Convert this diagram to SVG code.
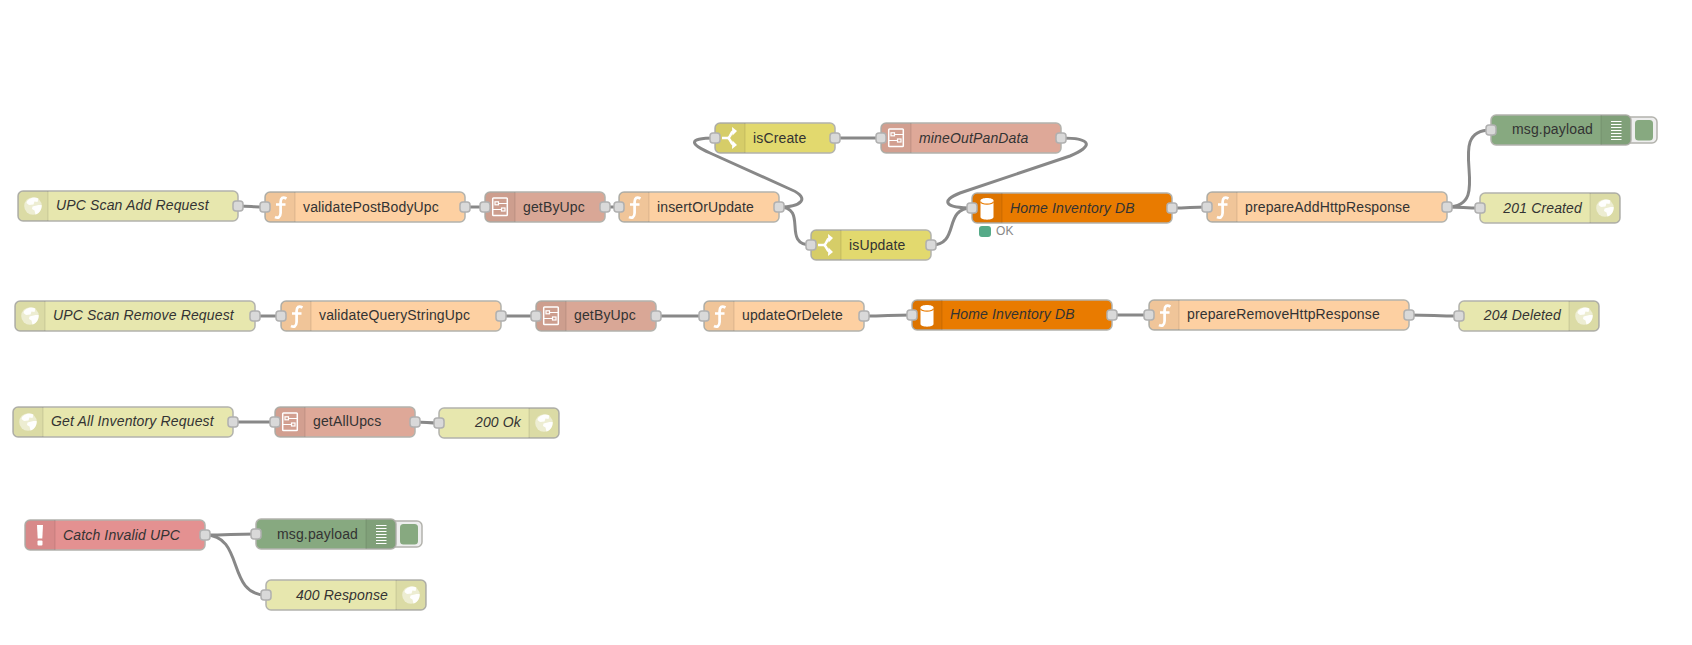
<svg xmlns="http://www.w3.org/2000/svg" width="1692" height="645" viewBox="0 0 1692 645">
<style>
text{font-family:"Liberation Sans",Arial,sans-serif;font-size:14px;fill:#333;letter-spacing:.15px}
.n{stroke:#b3b3ad;stroke-width:1.5}
.i{font-style:italic}
.e{text-anchor:end}
.p{fill:#d9d9d9;stroke:#b0b0b0;stroke-width:1.5}
.b{fill:#000;fill-opacity:.05}
.s{stroke:#000;stroke-opacity:.1;stroke-width:1}
.w{fill:none;stroke:#888;stroke-width:3}
.http{fill:#e7e7ae}.fn{fill:#fdd0a2}.tpl{fill:#dea898}.tpd{fill:#d9a796}.sw{fill:#e2d96e}.db{fill:#e97b00}.dbg{fill:#87a980}.ct{fill:#e49191}
.st{font-size:12px;fill:#888}
</style>
<defs>
<path id="bl" d="M5 0H30V30H5A5 5 0 0 1 0 25V5A5 5 0 0 1 5 0Z"/>
<path id="br" d="M0 0H25A5 5 0 0 1 30 5V25A5 5 0 0 1 25 30H0Z"/>
<g id="fi"><path d="M21.500 6.500C17.500 4.500 15.800 6 15.600 10V21C15.400 25.500 13 26.500 10 25M11 12.500H20.500" fill="none" stroke="#fff" stroke-width="2.700"/></g>
<g id="gl"><circle cx="15" cy="15" r="8.800" fill="#fff" fill-opacity=".5"/><path d="M9 10C12 6.500 17 5.500 20.500 7.500L19.500 11 16.500 10.500 15.500 13.500 11 14 8.500 12ZM14.500 15.500L20.500 14 23.600 14C24 18 21.500 22.500 17.500 23.500L16.500 19.500 14 18Z" fill="#fff" fill-opacity=".95"/></g>
<g id="tp" fill="none" stroke="#fff" stroke-width="1.500"><rect x="7.700" y="6" width="14.600" height="17.500" rx=".8"/><path d="M13.500 11.500H22M8 17.500H16.500" stroke-width="1.200"/><rect x="10" y="9.800" width="3.500" height="3" stroke-width="1.200"/><rect x="16.500" y="16" width="3.500" height="3" stroke-width="1.200"/></g>
<g id="swi" fill="none" stroke="#fff" stroke-width="2.600"><path d="M7 15H12.500C15.500 15 15.500 9.500 18 8.500M12.500 15C15.500 15 15.500 20.500 18 21.500"/><path d="M17 4L22 8 17.500 12.500ZM17.500 17.500L22 22 17 26Z" fill="#fff" stroke="none"/></g>
<g id="dbi"><path d="M8.500 7.500C8.500 4 21.500 4 21.500 7.500V24C21.500 27.500 8.500 27.500 8.500 24Z" fill="#fff"/><path d="M8.500 8.800C10 12 20 12 21.500 8.800" fill="none" stroke="#e97b00" stroke-width="1.200"/></g>
<g id="bg" stroke="#fff" stroke-width="1.100"><path d="M10 6.500H20.500M10 9.500H20.500M10 12.500H20.500M10 15.500H20.500M10 18.500H20.500M10 21.500H20.500M10 24.500H20.500" fill="none"/></g>
<g id="ex" fill="#fff"><path d="M12 5H18L17.300 18.500H12.700Z"/><rect x="12.500" y="20.500" width="5" height="5" rx="1"/></g>
<rect id="pt" class="p" x="-5" y="-5" width="10" height="10" rx="3"/>
</defs>
<g id="connectors">
<path class="w" d="M238 206C251 206 252 207 265 207"/>
<path class="w" d="M465 207H485"/>
<path class="w" d="M605 207H619"/>
<path class="w" d="M779 207C802 207 810 198 792 190L710 153C692 145 685 138 715 138"/>
<path class="w" d="M779 207C809 207 781 245 811 245"/>
<path class="w" d="M835 138H881"/>
<path class="w" d="M1061 138C1092 138 1094 146 1070 156L960 193C940 201 945 208 972 208"/>
<path class="w" d="M931 245C961 245 942 208 972 208"/>
<path class="w" d="M1172 208C1190 208 1190 207 1207 207"/>
<path class="w" d="M1447 207C1497 207 1441 130 1491 130"/>
<path class="w" d="M1447 207C1463 207 1464 208 1480 208"/>
<path class="w" d="M255 316H281"/>
<path class="w" d="M501 316H536"/>
<path class="w" d="M656 316H704"/>
<path class="w" d="M864 316C888 316 888 315 912 315"/>
<path class="w" d="M1112 315H1149"/>
<path class="w" d="M1409 315C1434 315 1434 316 1459 316"/>
<path class="w" d="M233 422H275"/>
<path class="w" d="M415 422C427 422 427 423 439 423"/>
<path class="w" d="M205 535C230 535 231 534 256 534"/>
<path class="w" d="M205 535C245 535 226 595 266 595"/>
</g>
<g id="n1" transform="translate(18 191)"><rect class="n http" width="220" height="30" rx="5"/><use href="#bl" class="b"/><path class="s" d="M30 0V30"/><use href="#gl"/><text class="i" x="38" y="19">UPC Scan Add Request</text><use href="#pt" x="220" y="15"/></g>
<g id="n2" transform="translate(265 192)"><rect class="n fn" width="200" height="30" rx="5"/><use href="#bl" class="b"/><path class="s" d="M30 0V30"/><use href="#fi"/><text x="38" y="19.500">validatePostBodyUpc</text><use href="#pt" y="15"/><use href="#pt" x="200" y="15"/></g>
<g id="n3" transform="translate(485 192)"><rect class="n tpd" width="120" height="30" rx="5"/><use href="#bl" class="b"/><path class="s" d="M30 0V30"/><use href="#tp"/><text x="38" y="19.500">getByUpc</text><use href="#pt" y="15"/><use href="#pt" x="120" y="15"/></g>
<g id="n4" transform="translate(619 192)"><rect class="n fn" width="160" height="30" rx="5"/><use href="#bl" class="b"/><path class="s" d="M30 0V30"/><use href="#fi"/><text x="38" y="19.500">insertOrUpdate</text><use href="#pt" y="15"/><use href="#pt" x="160" y="15"/></g>
<g id="n5" transform="translate(715 123)"><rect class="n sw" width="120" height="30" rx="5"/><use href="#bl" class="b"/><path class="s" d="M30 0V30"/><use href="#swi"/><text x="38" y="19.500">isCreate</text><use href="#pt" y="15"/><use href="#pt" x="120" y="15"/></g>
<g id="n6" transform="translate(881 123)"><rect class="n tpl" width="180" height="30" rx="5"/><use href="#bl" class="b"/><path class="s" d="M30 0V30"/><use href="#tp"/><text class="i" x="38" y="19.500">mineOutPanData</text><use href="#pt" y="15"/><use href="#pt" x="180" y="15"/></g>
<g id="n7" transform="translate(811 230)"><rect class="n sw" width="120" height="30" rx="5"/><use href="#bl" class="b"/><path class="s" d="M30 0V30"/><use href="#swi"/><text x="38" y="19.500">isUpdate</text><use href="#pt" y="15"/><use href="#pt" x="120" y="15"/></g>
<g id="n8" transform="translate(972 193)"><rect class="n db" width="200" height="30" rx="5"/><use href="#bl" class="b"/><path class="s" d="M30 0V30"/><use href="#dbi"/><text class="i" x="38" y="19.500">Home Inventory DB</text><use href="#pt" y="15"/><use href="#pt" x="200" y="15"/><rect x="7" y="33" width="12" height="11" rx="3" fill="#5a8"/><text class="st" x="24" y="42">OK</text></g>
<g id="n9" transform="translate(1207 192)"><rect class="n fn" width="240" height="30" rx="5"/><use href="#bl" class="b"/><path class="s" d="M30 0V30"/><use href="#fi"/><text x="38" y="19.500">prepareAddHttpResponse</text><use href="#pt" y="15"/><use href="#pt" x="240" y="15"/></g>
<g id="n10" transform="translate(1491 115)"><rect class="n" x="130" y="2" width="36" height="26" rx="5" fill="#eee"/><rect x="144" y="5" width="18" height="20.500" rx="3.500" class="dbg"/><rect class="n dbg" width="140" height="30" rx="5"/><use href="#br" class="b" x="110"/><path class="s" d="M110 0V30"/><use href="#bg" x="110"/><text class="e" x="102" y="19">msg.payload</text><use href="#pt" y="15"/></g>
<g id="n11" transform="translate(1480 193)"><rect class="n http" width="140" height="30" rx="5"/><use href="#br" class="b" x="110"/><path class="s" d="M110 0V30"/><use href="#gl" x="110"/><text class="i e" x="102" y="19.500">201 Created</text><use href="#pt" y="15"/></g>
<g id="n12" transform="translate(15 301)"><rect class="n http" width="240" height="30" rx="5"/><use href="#bl" class="b"/><path class="s" d="M30 0V30"/><use href="#gl"/><text class="i" x="38" y="19">UPC Scan Remove Request</text><use href="#pt" x="240" y="15"/></g>
<g id="n13" transform="translate(281 301)"><rect class="n fn" width="220" height="30" rx="5"/><use href="#bl" class="b"/><path class="s" d="M30 0V30"/><use href="#fi"/><text x="38" y="19">validateQueryStringUpc</text><use href="#pt" y="15"/><use href="#pt" x="220" y="15"/></g>
<g id="n14" transform="translate(536 301)"><rect class="n tpd" width="120" height="30" rx="5"/><use href="#bl" class="b"/><path class="s" d="M30 0V30"/><use href="#tp"/><text x="38" y="19">getByUpc</text><use href="#pt" y="15"/><use href="#pt" x="120" y="15"/></g>
<g id="n15" transform="translate(704 301)"><rect class="n fn" width="160" height="30" rx="5"/><use href="#bl" class="b"/><path class="s" d="M30 0V30"/><use href="#fi"/><text x="38" y="19">updateOrDelete</text><use href="#pt" y="15"/><use href="#pt" x="160" y="15"/></g>
<g id="n16" transform="translate(912 300)"><rect class="n db" width="200" height="30" rx="5"/><use href="#bl" class="b"/><path class="s" d="M30 0V30"/><use href="#dbi"/><text class="i" x="38" y="19">Home Inventory DB</text><use href="#pt" y="15"/><use href="#pt" x="200" y="15"/></g>
<g id="n17" transform="translate(1149 300)"><rect class="n fn" width="260" height="30" rx="5"/><use href="#bl" class="b"/><path class="s" d="M30 0V30"/><use href="#fi"/><text x="38" y="19">prepareRemoveHttpResponse</text><use href="#pt" y="15"/><use href="#pt" x="260" y="15"/></g>
<g id="n18" transform="translate(1459 301)"><rect class="n http" width="140" height="30" rx="5"/><use href="#br" class="b" x="110"/><path class="s" d="M110 0V30"/><use href="#gl" x="110"/><text class="i e" x="102" y="19">204 Deleted</text><use href="#pt" y="15"/></g>
<g id="n19" transform="translate(13 407)"><rect class="n http" width="220" height="30" rx="5"/><use href="#bl" class="b"/><path class="s" d="M30 0V30"/><use href="#gl"/><text class="i" x="38" y="19">Get All Inventory Request</text><use href="#pt" x="220" y="15"/></g>
<g id="n20" transform="translate(275 407)"><rect class="n tpl" width="140" height="30" rx="5"/><use href="#bl" class="b"/><path class="s" d="M30 0V30"/><use href="#tp"/><text x="38" y="19">getAllUpcs</text><use href="#pt" y="15"/><use href="#pt" x="140" y="15"/></g>
<g id="n21" transform="translate(439 408)"><rect class="n http" width="120" height="30" rx="5"/><use href="#br" class="b" x="90"/><path class="s" d="M90 0V30"/><use href="#gl" x="90"/><text class="i e" x="82" y="19">200 Ok</text><use href="#pt" y="15"/></g>
<g id="n22" transform="translate(25 520)"><rect class="n ct" width="180" height="30" rx="5"/><use href="#bl" class="b"/><path class="s" d="M30 0V30"/><use href="#ex"/><text class="i" x="38" y="19.500">Catch Invalid UPC</text><use href="#pt" x="180" y="15"/></g>
<g id="n23" transform="translate(256 519)"><rect class="n" x="130" y="2" width="36" height="26" rx="5" fill="#eee"/><rect x="144" y="5" width="18" height="20.500" rx="3.500" class="dbg"/><rect class="n dbg" width="140" height="30" rx="5"/><use href="#br" class="b" x="110"/><path class="s" d="M110 0V30"/><use href="#bg" x="110"/><text class="e" x="102" y="19.500">msg.payload</text><use href="#pt" y="15"/></g>
<g id="n24" transform="translate(266 580)"><rect class="n http" width="160" height="30" rx="5"/><use href="#br" class="b" x="130"/><path class="s" d="M130 0V30"/><use href="#gl" x="130"/><text class="i e" x="122" y="19.500">400 Response</text><use href="#pt" y="15"/></g>
</svg>
